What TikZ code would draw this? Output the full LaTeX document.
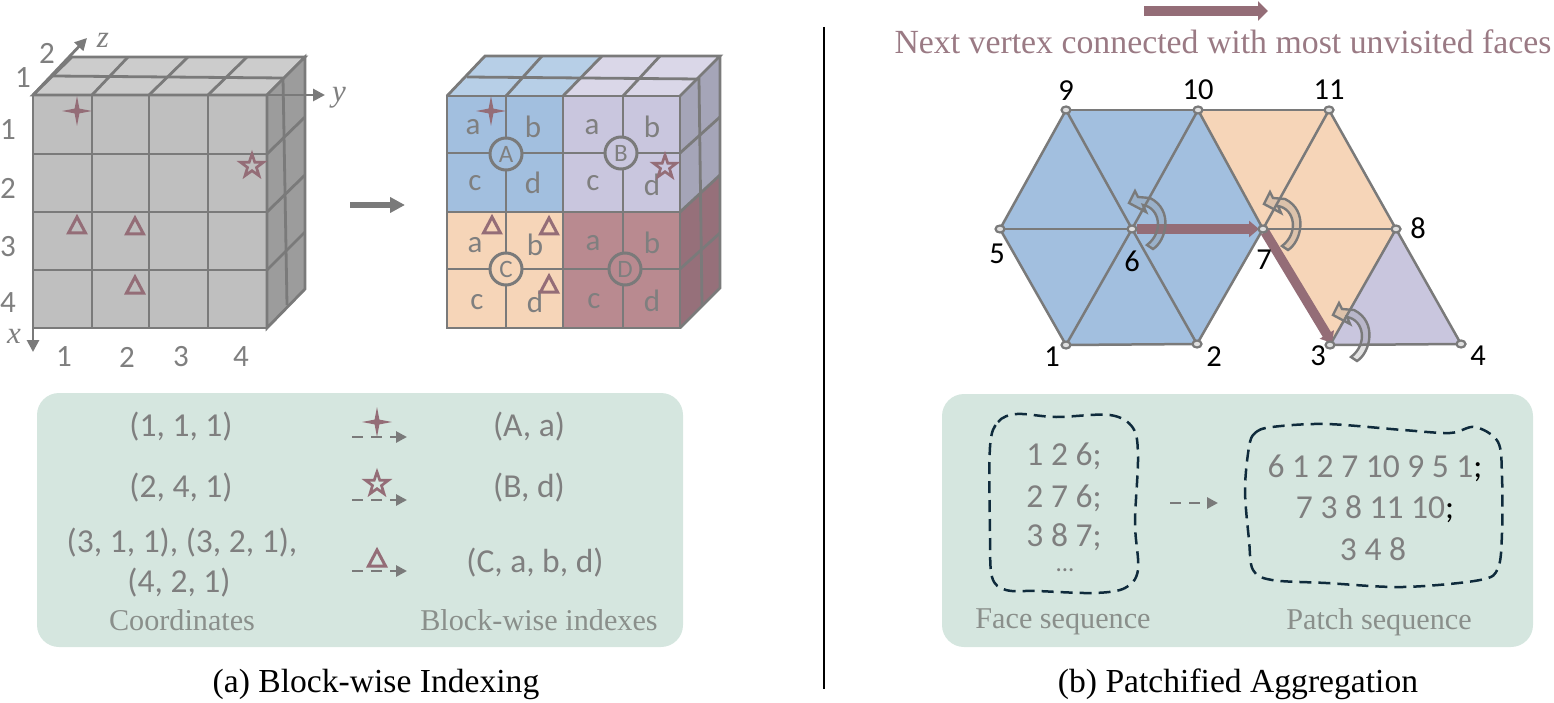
\documentclass[tikz,border=0pt]{standalone}
\usepackage{fontspec}
\setmainfont{Liberation Serif}
\newfontfamily\cbr{Carlito}
\newcommand\fsz[1]{\fontsize{#1}{#1}\selectfont}
\usetikzlibrary{arrows.meta,shapes.geometric}
\definecolor{gl}{HTML}{7A7A7A}
\definecolor{rosem}{HTML}{946D77}
\definecolor{titlec}{HTML}{9A7A84}
\definecolor{panel}{HTML}{D5E6DF}
\definecolor{bluef}{HTML}{A2BFDF}
\definecolor{bluet}{HTML}{B7CFE7}
\definecolor{purf}{HTML}{C9C6DE}
\definecolor{purt}{HTML}{DAD7E8}
\definecolor{purs}{HTML}{A5A5B8}
\definecolor{orf}{HTML}{F6D5B8}
\definecolor{rosf}{HTML}{B98A90}
\definecolor{ross}{HTML}{96707A}
\definecolor{dashc}{HTML}{0F2B3C}
\definecolor{stxt}{HTML}{7F7F7F}
\definecolor{ctxt}{HTML}{8A8F8B}
\tikzset{
 gline/.style={draw=gl,line width=2.8,line join=miter},
 tick/.style={font=\cbr\fsz{31},text=stxt,inner sep=0},
 sans/.style={font=\cbr\fsz{33.5},text=stxt,inner sep=0},
 letter/.style={font=\cbr\fsz{31},text=stxt,inner sep=0},
 axisn/.style={font=\itshape\fsz{31},text=stxt,inner sep=0},
 capt/.style={font=\fsz{30.2},text=ctxt,inner sep=0},
 caption/.style={font=\fsz{33.6},text=black,inner sep=0},
 num/.style={font=\cbr\fsz{30.5},text=black,inner sep=0},
 axisarrow/.style={draw=gl,line width=2.8,-{Triangle[length=12pt,width=12pt]}},
 dasharrow/.style={draw=gl,line width=2.8,dash pattern=on 11pt off 8pt,-{Triangle[length=11pt,width=11pt]}},
 pathbar/.style={draw=rosem,line width=9.5,-{Triangle[length=10pt,width=16pt]}},
 blob/.style={draw=dashc,line width=2.5,dash pattern=on 12pt off 7pt},
 vert/.style={ellipse,draw=gl,fill=gray!25,line width=2.2,minimum width=9pt,minimum height=7pt,inner sep=0},
 circ/.style={circle,draw=gl,line width=3,minimum size=32pt,inner sep=0,font=\cbr\fsz{25},text=stxt},
 fourstar/.pic={\fill[rosem] (0,-15)--(2.4,-2.4)--(15,0)--(2.4,2.4)--(0,15)--(-2.4,2.4)--(-15,0)--(-2.4,-2.4)--cycle;},
 fivestar/.pic={\draw[rosem,line width=2.7,line join=miter] (0,-12)--(2.8,-3.8)--(11.4,-3.7)--(4.5,1.5)--(7,9.7)--(0,4.7)--(-7,9.7)--(-4.5,1.5)--(-11.4,-3.7)--(-2.8,-3.8)--cycle;},
 trimark/.pic={\draw[rosem,line width=3,line join=miter] (-8.5,8)--(0,-8)--(8.5,8)--cycle;},
 turnarrow/.pic={\filldraw[draw=gl,line width=2.4,fill=gray,fill opacity=.22,line join=miter]
   (33,69) .. controls (46,61) and (54,30) .. (30,18) -- (18,17) -- (15,11) -- (9,23) -- (26,32) -- (23,25)
   .. controls (40,28) and (44,52) .. (27,65) -- cycle;},
}
\begin{document}
\begin{tikzpicture}[x=1pt,y=-1pt]
\useasboundingbox (0,0) rectangle (1554,703);
% ---------- left cube
\fill[fill=black!25] (33,95) rectangle (267,328);
\filldraw[gline,fill=black!20] (33,95)--(72,57)--(305,57)--(267,95)--cycle;
\filldraw[gline,fill=black!39] (267,95)--(305,57)--(305,289)--(267,328)--cycle;
\foreach \xa in {92,149,208}{\draw[gline] (\xa,95)--(\xa,328);}
\foreach \ya in {154,212,270}{\draw[gline] (33,\ya)--(267,\ya);}
\foreach \xa/\xb in {92/128,149/188,208/247}{\draw[gline] (\xa,95)--(\xb,57);}
\draw[gline] (53,76)--(283,78);
\draw[gline] (283,78)--(287,305);
\foreach \ya/\yb in {154/117,212/175,270/232}{\draw[gline] (267,\ya)--(305,\yb);}
\draw[gline] (33,95) rectangle (267,328);
\coordinate (o) at (33,95);
\coordinate (zend) at (87,38);
\coordinate (yst) at (267,95);
\coordinate (yend) at (325,95);
\coordinate (xst) at (33,328);
\coordinate (xend) at (33,352);
\draw[axisarrow] (o)--(zend);
\draw[axisarrow] (yst)--(yend);
\draw[axisarrow] (xst)--(xend);
\node[axisn] (lz) at (103,40) {z};
\node[axisn] (ly) at (339,98) {y};
\node[axisn] (lx) at (14,336) {x};
\node[tick] (n1) at (23,78) {1};
\node[tick] (n2) at (47,53) {2};
\node[tick] (r1) at (8,130) {1};
\node[tick] (r2) at (8,188) {2};
\node[tick] (r3) at (8,247) {3};
\node[tick] (r4) at (8,303) {4};
\node[tick] (c1) at (64,357) {1};
\node[tick] (c2) at (127,357) {2};
\node[tick] (c3) at (181,357) {3};
\node[tick] (c4) at (241,357) {4};
\pic at (77,111) {fourstar};
\pic at (252,166) {fivestar};
\pic at (77,225) {trimark};
\pic at (135,226) {trimark};
\pic at (135,285) {trimark};
% big arrow
\coordinate (bigs) at (350,205);
\coordinate (bige) at (405,205);
\draw[draw=gl,line width=5.5,-{Triangle[length=15pt,width=15pt]}] (bigs)--(bige);
% ---------- right cube
\fill[bluef] (447,96) rectangle (563,212);
\fill[purf] (563,96) rectangle (680,212);
\fill[orf] (447,212) rectangle (563,328);
\fill[rosf] (563,212) rectangle (680,328);
\fill[bluet] (447,96)--(485,56)--(602,56)--(563,96)--cycle;
\fill[purt] (563,96)--(602,56)--(720,56)--(680,96)--cycle;
\fill[purs] (680,96)--(720,56)--(720,175)--(680,212)--cycle;
\fill[ross] (680,212)--(720,175)--(720,288)--(680,328)--cycle;
\draw[gline] (447,96) rectangle (680,328);
\draw[gline] (447,96)--(485,56)--(720,56)--(680,96);
\draw[gline] (720,56)--(720,288)--(680,328);
\foreach \xa in {506,563,623}{\draw[gline] (\xa,96)--(\xa,328);}
\foreach \ya in {153,212,269}{\draw[gline] (447,\ya)--(680,\ya);}
\foreach \xa/\xb in {506/542,563/602,623/660}{\draw[gline] (\xa,96)--(\xb,56);}
\draw[gline] (467,77)--(699,79)--(702,305);
\foreach \ya/\yb in {153/117,212/175,269/233}{\draw[gline] (680,\ya)--(720,\yb);}
\node[circ,fill=bluef] (ca) at (506,154) {A};
\node[circ,fill=purf] (cb) at (621,153) {B};
\node[circ,fill=orf] (cc) at (506,269) {C};
\node[circ,fill=rosf] (cd) at (625,269) {D};
\node[letter] (aa) at (473,127) {a};
\node[letter] (ab) at (533,127) {b};
\node[letter] (ac) at (475,183) {c};
\node[letter] (ad) at (533,183) {d};
\node[letter] (ba) at (592,127) {a};
\node[letter] (bb) at (652,127) {b};
\node[letter] (bc) at (593,183) {c};
\node[letter] (bd) at (652,185) {d};
\node[letter] (ca1) at (475,245) {a};
\node[letter] (cb1) at (535,245) {b};
\node[letter] (cc1) at (477,302) {c};
\node[letter] (cd1) at (535,302) {d};
\node[letter] (da) at (593,243) {a};
\node[letter] (db) at (652,243) {b};
\node[letter] (dc) at (594,301) {c};
\node[letter] (dd) at (652,301) {d};
\pic at (491,111) {fourstar};
\pic at (665,167) {fivestar};
\pic at (492,225) {trimark};
\pic at (549,226) {trimark};
\pic at (549,284) {trimark};
% ---------- left panel
\fill[panel,rounded corners=22pt] (37,393) rectangle (683,647);
\node[sans] (t1) at (181,427) {(1, 1, 1)};
\node[sans] (t2) at (181,488) {(2, 4, 1)};
\node[sans] (t3) at (182,543) {(3, 1, 1), (3, 2, 1),};
\node[sans] (t4) at (179,583) {(4, 2, 1)};
\node[capt] (t5) at (182,620) {Coordinates};
\node[sans] (i1) at (529,427) {(A, a)};
\node[sans] (i2) at (529,488) {(B, d)};
\node[sans] (i3) at (535,563) {(C, a, b, d)};
\node[capt] (i4) at (539,620) {Block-wise indexes};
\foreach \ya [count=\k] in {437,500,571}{
  \coordinate (das\k) at (352,\ya);
  \coordinate (dae\k) at (407,\ya);
  \draw[dasharrow] (das\k)--(dae\k);
}
\pic at (377,422) {fourstar};
\pic at (377,484) {fivestar};
\pic at (377,558) {trimark};
\node[caption] (capa) at (376,684) {(a) Block-wise Indexing};
% divider
\coordinate (diva) at (824,27);
\coordinate (divb) at (824,689);
\draw[black,line width=2.6] (diva)--(divb);
% ---------- title
\coordinate (tas) at (1144,11);
\coordinate (tae) at (1268,11);
\draw[draw=rosem,line width=10,-{Triangle[length=10pt,width=19pt]}] (tas)--(tae);
\node[font=\fsz{33.8},text=titlec,inner sep=0] (title) at (1223,42) {Next vertex connected with most unvisited faces};
% ---------- mesh
\coordinate (v1) at (1066,345);
\coordinate (v2) at (1197,344);
\coordinate (v3) at (1330,345);
\coordinate (v4) at (1461,344);
\coordinate (v5) at (1000,229);
\coordinate (v6) at (1132,229);
\coordinate (v7) at (1263,229);
\coordinate (v8) at (1396,229);
\coordinate (v9) at (1066,110);
\coordinate (v10) at (1198,110);
\coordinate (v11) at (1329,110);
\coordinate (b67s) at (1137,229);
\coordinate (b67e) at (1259,229);
\coordinate (b73s) at (1265,232);
\coordinate (b73e) at (1332,343);
\fill[bluef] (v1)--(v2)--(v7)--(v10)--(v9)--(v5)--cycle;
\fill[orf] (v7)--(v10)--(v11)--(v8)--(v3)--cycle;
\fill[purf] (v3)--(v8)--(v4)--cycle;
\foreach \a/\b in {9/10,10/11,5/8,1/2,3/4,9/5,5/1,1/6,6/2,2/7,7/10,10/6,6/9,11/7,11/8,8/3,8/4,7/3}{
  \draw[draw=gl,line width=2.5] (v\a)--(v\b);
}
\draw[pathbar] (b67s)--(b67e);
\draw[pathbar] (b73s)--(b73e);
\pic at (1120,180) {turnarrow};
\pic at (1255,181) {turnarrow};
\pic at (1324,292) {turnarrow};
\foreach \k in {1,...,11}{ \node[vert] (p\k) at (v\k) {}; }
\node[num] (l9) at (1066,91) {9};
\node[num] (l10) at (1198,90) {10};
\node[num] (l11) at (1329,90) {11};
\node[num] (l8) at (1418,228) {8};
\node[num] (l5) at (997,254) {5};
\node[num] (l6) at (1132,261) {6};
\node[num] (l7) at (1264,260) {7};
\node[num] (l1) at (1052,357) {1};
\node[num] (l2) at (1214,357) {2};
\node[num] (l3) at (1318,356) {3};
\node[num] (l4) at (1478,356) {4};
% ---------- right panel
\fill[panel,rounded corners=22pt] (942,394) rectangle (1533,647);
\draw[blob] plot[smooth cycle,tension=.55] coordinates {(990,447)(998,422)(1017,414)(1056,417)(1110,415)(1133,428)(1138,457)(1135,523)(1138,570)(1125,588)(1094,593)(1037,591)(1006,590)(992,577)(990,533)};
\draw[blob] plot[smooth cycle,tension=.55] coordinates {(1249,447)(1255,433)(1272,427)(1326,424)(1403,430)(1450,433)(1475,427)(1498,442)(1502,477)(1502,533)(1498,568)(1480,580)(1403,587)(1326,583)(1272,580)(1253,570)(1249,540)(1245,490)};
\node[sans] (f1) at (1064,456) {1 2 6;};
\node[sans] (f2) at (1064,498) {2 7 6;};
\node[sans] (f3) at (1064,537) {3 8 7;};
\node[font=\cbr\fsz{25},text=stxt,inner sep=0] (f4) at (1065,570) {...};
\node[capt] (f5) at (1063,622) {Face sequence};
\node[sans] (g1) at (1375,468) {6 1 2 7 10 9 5 1\textcolor{black}{;}};
\node[sans] (g2) at (1375,509) {7 3 8 11 10\textcolor{black}{;}};
\node[sans] (g3) at (1373,549) {3 4 8};
\node[capt] (g5) at (1379,622) {Patch sequence};
\coordinate (sa) at (1170,503);
\coordinate (sb) at (1218,503);
\draw[dasharrow] (sa)--(sb);
\node[caption] (capb) at (1238,684) {(b) Patchified Aggregation};
\end{tikzpicture}
\end{document}
